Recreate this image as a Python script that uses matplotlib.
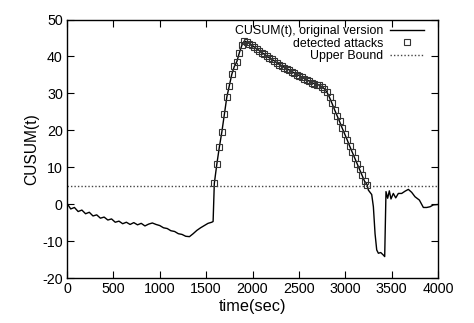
import numpy as np
import matplotlib
matplotlib.use("Agg")
import matplotlib.pyplot as plt

plt.rcParams['font.family'] = ['Liberation Sans', 'DejaVu Sans']
plt.rcParams['axes.unicode_minus'] = False

# before the attack (sampled every 40 s)
t_before = [0, 40, 80, 120, 160, 200, 240, 280, 320, 360, 400, 440, 480, 520,
            560, 600, 640, 680, 720, 760, 800, 840, 880, 920, 960, 1000, 1040,
            1080, 1120, 1160, 1200, 1240, 1280, 1320, 1360, 1400, 1440, 1480,
            1520, 1560, 1575]
cusum_before = [0.2, -1.3, -0.9, -2.0, -1.6, -2.6, -2.2, -3.2, -2.9, -3.8, -3.5,
                -4.3, -4.0, -4.9, -4.6, -5.3, -4.9, -5.5, -5.0, -5.6, -5.2, -5.9,
                -5.4, -5.1, -5.5, -5.8, -6.4, -6.6, -7.2, -7.4, -8.0, -8.2, -8.7,
                -8.8, -8.0, -7.1, -6.4, -5.8, -5.2, -4.9, -4.7]

# attack period, every sample flagged as detected
t_attack = [1588, 1615, 1642, 1669, 1696, 1723, 1750, 1777, 1804, 1831, 1858,
            1885, 1912, 1939, 1966, 1993, 2020, 2047, 2074, 2101, 2128, 2155,
            2182, 2209, 2236, 2263, 2290, 2317, 2344, 2371, 2398, 2425, 2452,
            2479, 2506, 2533, 2560, 2587, 2614, 2641, 2668, 2695, 2722, 2749,
            2776, 2803, 2830, 2857, 2884, 2911, 2938, 2965, 2992, 3019, 3046,
            3073, 3100, 3127, 3154, 3181, 3208, 3235]
cusum_attack = [5.6, 10.8, 15.4, 19.5, 24.3, 29.0, 32.1, 35.2, 37.3, 38.6, 41.0,
                43.0, 44.2, 43.9, 43.5, 43.1, 42.5, 42.0, 41.6, 41.0, 40.6, 40.1,
                39.6, 39.2, 38.8, 38.3, 37.8, 37.5, 37.0, 36.7, 36.3, 35.9, 35.5,
                35.1, 34.8, 34.4, 34.0, 33.6, 33.3, 32.9, 32.6, 32.4, 32.2, 31.8,
                31.2, 30.3, 28.9, 27.3, 25.6, 24.0, 22.4, 20.7, 19.1, 17.5, 15.8,
                14.2, 12.6, 11.0, 9.4, 7.8, 6.2, 5.3]

# after the attack
t_after = [3249, 3285, 3303, 3321, 3339, 3357, 3382, 3411, 3425, 3439, 3457,
           3475, 3493, 3518, 3544, 3572, 3608, 3644, 3680, 3716, 3752, 3799,
           3842, 3878, 3914, 3950, 4000]
cusum_after = [3.8, 2.6, -0.7, -8.0, -12.4, -13.3, -13.1, -13.8, -14.2, 3.4, 1.6,
               3.6, 1.4, 2.9, 1.7, 2.9, 2.9, 3.5, 4.0, 3.2, 2.0, 1.1, -0.9,
               -0.9, -0.7, -0.2, -0.1]

upper_bound = 5

t = t_before + t_attack + t_after
cusum = cusum_before + cusum_attack + cusum_after

fig = plt.figure(figsize=(4.74, 3.23), dpi=100)
ax = fig.add_axes([0.1414, 0.1393, 0.7827, 0.8003])

ax.plot(t, cusum, color='black', lw=1.0, label='CUSUM(t), original version')
ax.plot(t_attack, cusum_attack, ls='none', marker='s', ms=5, mfc='none',
        mec='#333333', mew=0.8, label='detected attacks')
ax.axhline(upper_bound, color='#444444', lw=1.0, ls=(0, (1, 1.5)),
           label='Upper Bound')

ax.set_xlim(0, 4000)
ax.set_ylim(-20, 50)
ax.set_xticks(np.arange(0, 4001, 500))
ax.set_yticks(np.arange(-20, 51, 10))
ax.tick_params(direction='in', top=True, right=True, length=5, width=0.8,
               labelsize=10.3, pad=3)
for s in ax.spines.values():
    s.set_linewidth(1.0)

ax.set_xlabel('time(sec)', fontsize=11.7, labelpad=2)
ax.set_ylabel('CUSUM(t)', fontsize=11.2, labelpad=2)

ax.legend(loc='upper right', frameon=False, markerfirst=False, fontsize=8.9,
          handlelength=2.7, handletextpad=0.6, labelspacing=0.05,
          borderaxespad=0.3, bbox_to_anchor=(0.985, 1.012))

fig.savefig('out.png', dpi=100)
